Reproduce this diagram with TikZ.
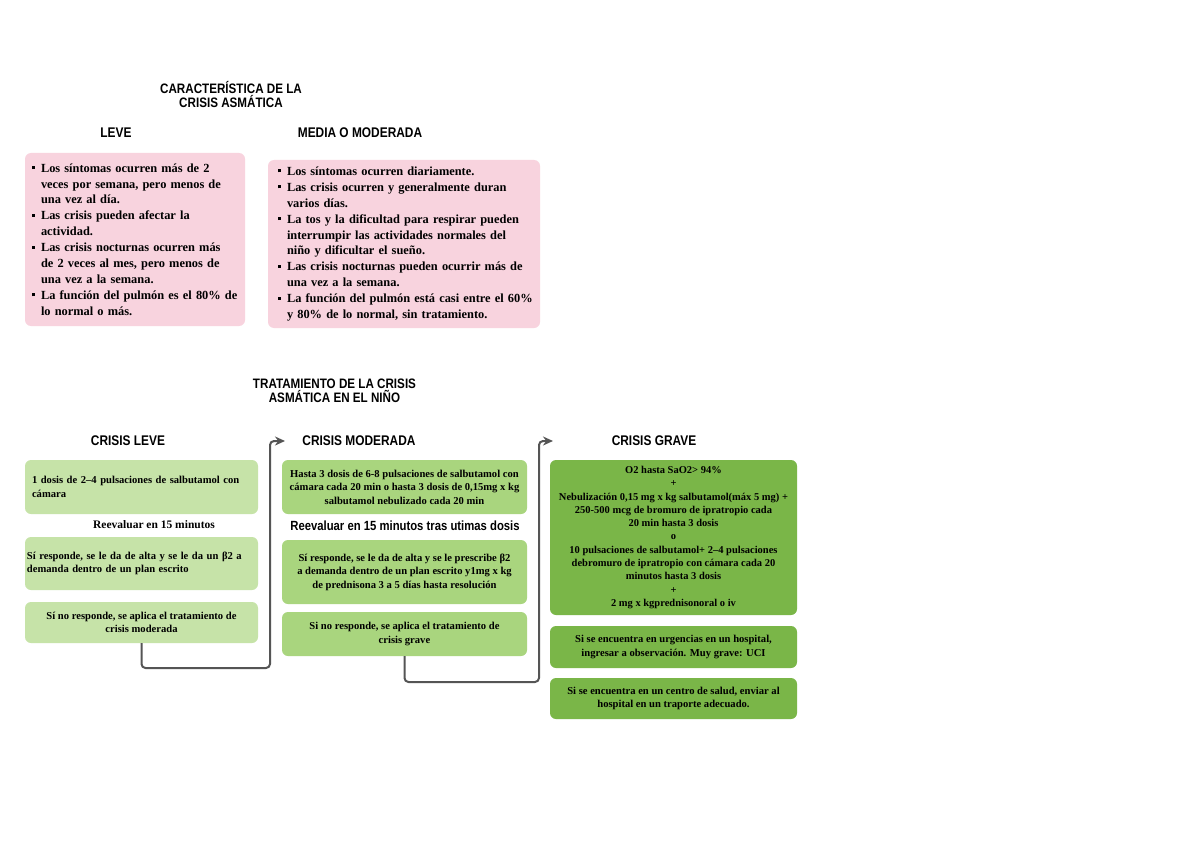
\documentclass[tikz,border=0pt]{standalone}
\usepackage{fontspec}
\setmainfont{Liberation Serif}
\newfontfamily\hfont[FakeStretch=0.85]{Liberation Sans Bold}
\usetikzlibrary{arrows.meta}
\definecolor{pinkbox}{HTML}{F8D3DE}
\definecolor{gA}{HTML}{C6E3A8}
\definecolor{gB}{HTML}{A9D57E}
\definecolor{gC}{HTML}{7AB648}
\definecolor{conncol}{HTML}{555555}
\newcommand{\bl}{\makebox[9pt][l]{\rule[3pt]{3pt}{3pt}}}
\newcommand{\ind}{\hspace*{9pt}}
\newcommand{\tline}[1]{\mbox{#1}}
\begin{document}
\begin{tikzpicture}[x=1pt,y=-1pt,
  heading/.style={font=\hfont\fontsize{14}{15}\selectfont, inner sep=0pt, align=center},
  title/.style={font=\hfont\fontsize{13.7}{14}\selectfont, inner sep=0pt, align=center},
  pinkb/.style={fill=pinkbox, rounded corners=6pt, align=left, inner ysep=0pt,
     font=\bfseries\fontsize{12.4}{15.9}\selectfont},
  gbox/.style={rounded corners=6pt, inner ysep=0pt,
     font=\bfseries\fontsize{10.6}{13.6}\selectfont},
  note/.style={inner sep=0pt},
  conn/.style={draw=conncol, line width=2pt, rounded corners=4pt, -{Stealth[length=10pt,width=9pt]}}
]
\useasboundingbox (0,0) rectangle (1200,848);
\fill[white] (0,0) rectangle (1200,848);

% ---- Characteristics ----
\node[title] (t1) at (231,94) {CARACTERÍSTICA DE LA\\CRISIS ASMÁTICA};
\node[heading] (hleve) at (116,133) {LEVE};
\node[heading] (hmedia) at (360,133) {MEDIA O MODERADA};

\node[pinkb, minimum width=220pt, minimum height=173pt, text width=206pt, inner xsep=7pt] (p1) at (135,239.5) {%
\bl\tline{Los síntomas ocurren más de 2}\\
\ind\tline{veces por semana, pero menos de}\\
\ind\tline{una vez al día.}\\
\bl\tline{Las crisis pueden afectar la}\\
\ind\tline{actividad.}\\
\bl\tline{Las crisis nocturnas ocurren más}\\
\ind\tline{de 2 veces al mes, pero menos de}\\
\ind\tline{una vez a la semana.}\\
\bl\tline{La función del pulmón es el 80\% de}\\
\ind\tline{lo normal o más.}};

\node[pinkb, minimum width=272pt, minimum height=168pt, text width=252pt, inner xsep=10pt] (p2) at (404,244) {%
\bl\tline{Los síntomas ocurren diariamente.}\\
\bl\tline{Las crisis ocurren y generalmente duran}\\
\ind\tline{varios días.}\\
\bl\tline{La tos y la dificultad para respirar pueden}\\
\ind\tline{interrumpir las actividades normales del}\\
\ind\tline{niño y dificultar el sueño.}\\
\bl\tline{Las crisis nocturnas pueden ocurrir más de}\\
\ind\tline{una vez a la semana.}\\
\bl\tline{La función del pulmón está casi entre el 60\%}\\
\ind\tline{y 80\% de lo normal, sin tratamiento.}};

% ---- Treatment ----
\node[title] (t2) at (334.5,391) {TRATAMIENTO DE LA CRISIS\\ASMÁTICA EN EL NIÑO};
\node[heading] (hlev) at (128,441) {CRISIS LEVE};
\node[heading] (hmod) at (359,441) {CRISIS MODERADA};
\node[heading] (hgra) at (654,441) {CRISIS GRAVE};

% column 1
\node[gbox, fill=gA, minimum width=233pt, minimum height=54pt, text width=219pt, inner xsep=7pt, align=left] (l1) at (141.5,487)
  {\tline{1 dosis de 2--4 pulsaciones de salbutamol con}\\\tline{cámara}};
\node[note, font=\bfseries\fontsize{11.5}{12}\selectfont] (r1) at (154,525) {Reevaluar en 15 minutos};
\node[gbox, fill=gA, minimum width=233pt, minimum height=53pt, text width=229pt, inner xsep=2pt, align=left] (l2) at (141.5,563.5)
  {\tline{Sí responde, se le da de alta y se le da un β2 a}\\\tline{demanda dentro de un plan escrito}};
\node[gbox, fill=gA, minimum width=233pt, minimum height=41pt, align=center] (l3) at (141.5,622.5)
  {Sí no responde, se aplica el tratamiento de\\crisis moderada};

% column 2
\node[gbox, fill=gB, minimum width=245pt, minimum height=54pt, align=center] (m1) at (404.5,487)
  {Hasta 3 dosis de 6-8 pulsaciones de salbutamol con\\cámara cada 20 min o hasta 3 dosis de 0,15mg x kg\\salbutamol nebulizado cada 20 min};
\node[note, font=\hfont\fontsize{13.3}{14}\selectfont] (r2) at (405,526) {Reevaluar en 15 minutos tras utimas dosis};
\node[gbox, fill=gB, minimum width=245pt, minimum height=64pt, align=center] (m2) at (404.5,572)
  {Sí responde, se le da de alta y se le prescribe β2\\a demanda dentro de un plan escrito y1mg x kg\\de prednisona 3 a 5 días hasta resolución};
\node[gbox, fill=gB, minimum width=245pt, minimum height=44pt, align=center] (m3) at (404.5,634)
  {Si no responde, se aplica el tratamiento de\\crisis grave};

% column 3
\node[gbox, fill=gC, minimum width=247pt, minimum height=155pt, align=center,
  font=\bfseries\fontsize{10.5}{13.3}\selectfont] (g1) at (673.5,537.5)
  {O2 hasta SaO2> 94\%\\+\\Nebulización 0,15 mg x kg salbutamol(máx 5 mg) +\\250-500 mcg de bromuro de ipratropio cada\\20 min hasta 3 dosis\\o\\10 pulsaciones de salbutamol+ 2--4 pulsaciones\\debromuro de ipratropio con cámara cada 20\\minutos hasta 3 dosis\\+\\2 mg x kgprednisonoral o iv};
\node[gbox, fill=gC, minimum width=247pt, minimum height=42pt, align=center] (g2) at (673.5,647)
  {Si se encuentra en urgencias en un hospital,\\ingresar a observación. Muy grave: UCI};
\node[gbox, fill=gC, minimum width=247pt, minimum height=41pt, align=center] (g3) at (673.5,698.5)
  {Si se encuentra en un centro de salud, enviar al\\hospital en un traporte adecuado.};

% connectors
\coordinate (a1) at (285,441);
\coordinate (a2) at (553,441);
\draw[conn] (l3.south) -- (141.5,668) -- (270,668) -- (270,441) -- (a1);
\draw[conn] (m3.south) -- (404.5,682) -- (539,682) -- (539,441) -- (a2);
\end{tikzpicture}
\end{document}
